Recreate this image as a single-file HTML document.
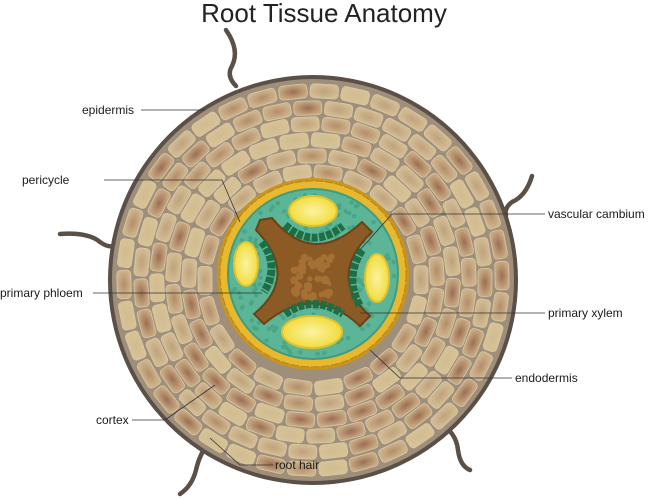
<!DOCTYPE html>
<html><head><meta charset="utf-8"><style>
html,body{margin:0;padding:0;background:#fff;width:649px;height:500px;overflow:hidden}
svg{display:block}
text{font-family:"Liberation Sans",sans-serif;font-size:12px;fill:#1a1a1a}
</style></head><body>
<svg id="s" width="649" height="500" viewBox="0 0 649 500" xmlns="http://www.w3.org/2000/svg">
<defs>
<radialGradient id="g0"><stop offset="0" stop-color="#bfa27c"/><stop offset="1" stop-color="#d2bb93"/></radialGradient>
<radialGradient id="g1"><stop offset="0" stop-color="#9c6e52"/><stop offset="1" stop-color="#c6a882"/></radialGradient>
<radialGradient id="g2"><stop offset="0" stop-color="#b38d6a"/><stop offset="1" stop-color="#cdb38b"/></radialGradient>
<radialGradient id="g3"><stop offset="0" stop-color="#d0bc90"/><stop offset="1" stop-color="#d6c295"/></radialGradient>
<radialGradient id="yo"><stop offset="0" stop-color="#fbf3a0"/><stop offset="1" stop-color="#f2dc40"/></radialGradient>
</defs>
<text x="324" y="22" text-anchor="middle" style="font-size:26px;fill:#222">Root Tissue Anatomy</text>
<g fill="none" stroke="#5a5048" stroke-width="4.5" stroke-linecap="round">
<path d="M226 30 Q240 50 232 66 Q226 76 236 86"/>
<path d="M532 176 Q526 196 512 202 Q504 208 506 216"/>
<path d="M60 234 Q88 232 100 242 Q108 248 116 246"/>
<path d="M440 424 Q456 432 458 450 Q460 466 470 470"/>
<path d="M212 438 Q200 452 196 470 Q192 486 180 494"/>
</g>
<circle cx="313" cy="280" r="205" fill="#5a5048"/>
<circle cx="313" cy="280" r="201" fill="#9e8e7a"/>
<g id="cells"></g>
<circle cx="313" cy="274" r="96" fill="#c9951c"/>
<circle cx="313" cy="274" r="93" fill="#e8b92e" stroke="#b8861a" stroke-width="1" stroke-dasharray="8 2"/>
<circle cx="313" cy="274" r="86" fill="#3f9c80"/>
<circle cx="313" cy="274" r="84" fill="#5cb597"/>
<g fill="#49a585" id="gr"></g>
<path d="M260 220 L272 218 Q313 268 362 222 L372 232 Q326 276 370 316 L360 326 Q313 282 264 324 L254 314 Q300 276 256 230 Z" fill="#8c5a24" stroke="#6b4216" stroke-width="2"/>
<g fill="#b07a3c" opacity="0.7" id="xy"></g>
<g stroke="#1d6e45" stroke-width="8" fill="none" stroke-dasharray="6 1.5">
<path d="M285 225 Q313 250 343 226"/>
<path d="M262 242 Q280 266 264 292"/>
<path d="M362 250 Q344 278 360 306"/>
<path d="M285 314 Q313 294 343 314"/>
</g>
<g fill="url(#yo)" stroke="#e0c22c" stroke-width="2">
<ellipse cx="313" cy="211" rx="24" ry="15"/>
<ellipse cx="246" cy="264" rx="12" ry="22"/>
<ellipse cx="377" cy="278" rx="12" ry="24"/>
<ellipse cx="312" cy="332" rx="30" ry="16"/>
</g>
<g stroke="#333" stroke-width="0.8" fill="none">
<path d="M141 110 H205"/>
<path d="M104 180 H222 L240 222"/>
<path d="M93 293 H262"/>
<path d="M132 420 H165 L215 385"/>
<path d="M273 465 H240 L210 438"/>
<path d="M545 214 H392 L360 250"/>
<path d="M545 313 H360"/>
<path d="M512 378 H400 L370 350"/>
</g>
<text x="82" y="114">epidermis</text>
<text x="22" y="184">pericycle</text>
<text x="0" y="297">primary phloem</text>
<text x="96" y="424">cortex</text>
<text x="275" y="469">root hair</text>
<text x="548" y="218">vascular cambium</text>
<text x="548" y="317">primary xylem</text>
<text x="515" y="382">endodermis</text>
</svg>
<script>
(function(){
var g=document.getElementById('cells'),ns='http://www.w3.org/2000/svg';
var cx=313,cy=280,seed=7;function rnd(){seed=(seed*9301+49297)%233280;return seed/233280;}
var rings=[108,124,140,156,172,189];
for(var j=0;j<rings.length;j++){var r=rings[j];
 var circ=2*Math.PI*r,n=Math.round(circ/31),off=rnd();
 for(var i=0;i<n;i++){
  var a=(i+off)/n*360;
  var e=document.createElementNS(ns,'rect');
  var w=circ/n-3;
  e.setAttribute('x',-w/2);e.setAttribute('y',-7);e.setAttribute('width',w);e.setAttribute('height',14);
  e.setAttribute('rx',4);e.setAttribute('fill','url(#g'+Math.floor(rnd()*4)+')');
  e.setAttribute('stroke','#d8c8a6');e.setAttribute('stroke-width','0.8');
  e.setAttribute('transform','translate('+cx+','+cy+') rotate('+a+') translate(0,'+(-r)+')');
  g.appendChild(e);
 }
}
var gr=document.getElementById('gr');
for(var k=0;k<260;k++){var ang=rnd()*6.283,rr=Math.sqrt(rnd())*82;var c=document.createElementNS(ns,'circle');
 c.setAttribute('cx',313+rr*Math.cos(ang));c.setAttribute('cy',274+rr*Math.sin(ang));c.setAttribute('r',2.2);gr.appendChild(c);}
var xy=document.getElementById('xy');
for(var k=0;k<50;k++){var c=document.createElementNS(ns,'circle');
 c.setAttribute('cx',294+rnd()*38);c.setAttribute('cy',256+rnd()*42);c.setAttribute('r',2+rnd()*2.5);xy.appendChild(c);}
})();
</script>
</body></html>
